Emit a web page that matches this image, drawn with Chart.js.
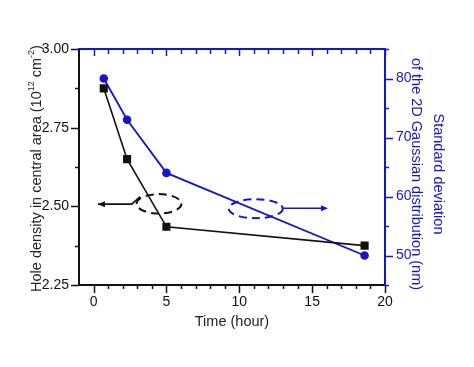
<!DOCTYPE html>
<html>
<head>
<meta charset="utf-8">
<script src="https://cdn.jsdelivr.net/npm/chart.js@4/dist/chart.umd.min.js"></script>
<style>
  html, body { margin: 0; padding: 0; background: #ffffff; }
  #wrap { width: 474px; height: 367px; }
</style>
</head>
<body>
<div id="wrap"><canvas id="c" width="474" height="367"></canvas></div>
<script>
// ---- data ----
const timeHours   = [0.7, 2.3, 5.0, 18.6];
const holeDensity = [2.875, 2.650, 2.435, 2.375];       // 10^12 cm^-2 (left axis)
const stdDeviation = [80.0, 73.0, 64.0, 50.0];          // nm (right axis)
const xTickValues = [0, 5, 10, 15, 20];
const leftTickValues = [2.25, 2.50, 2.75, 3.00];
const rightTickValues = [50, 60, 70, 80];

// ---- styles ----
const BLUE = '#1616c6';
const BLACK = '#111111';
const FONT = '"Liberation Sans", Arial, sans-serif';

// annotation marks (in data units)
const annotations = {
  blackEllipse: { cx: 4.49, cy: 2.508, rx: 1.54, ry: 0.0308 },
  blackArrow:   [[3.19, 2.531], [2.62, 2.507], [0.30, 2.507]],
  blueEllipse:  { cx: 11.13, cy: 57.93, rx: 1.85, ry: 1.61 },
  blueArrow:    [[13.0, 58.0], [16.09, 58.0]]
};

function drawArrowHead(ctx, x1, y1, x2, y2, color) {
  const ang = Math.atan2(y2 - y1, x2 - x1);
  const len = 7, half = 3;
  ctx.save();
  ctx.fillStyle = color;
  ctx.translate(x2, y2);
  ctx.rotate(ang);
  ctx.beginPath();
  ctx.moveTo(0, 0);
  ctx.lineTo(-len, -half);
  ctx.lineTo(-len, half);
  ctx.closePath();
  ctx.fill();
  ctx.restore();
}

const framePlugin = {
  id: 'frame',
  afterDatasetsDraw(chart) {
    const ctx = chart.ctx;
    const xs = chart.scales.x, yl = chart.scales.y, yr = chart.scales.y1;
    ctx.save();
    ctx.lineWidth = 2;
    ctx.setLineDash([8, 5]);
    // black ellipse
    let e = annotations.blackEllipse;
    let cx = xs.getPixelForValue(e.cx), cy = yl.getPixelForValue(e.cy);
    let rx = xs.getPixelForValue(e.cx + e.rx) - cx, ry = cy - yl.getPixelForValue(e.cy + e.ry);
    ctx.strokeStyle = BLACK;
    ctx.beginPath(); ctx.ellipse(cx, cy, rx, ry, 0, 0, Math.PI * 2); ctx.stroke();
    // blue ellipse
    e = annotations.blueEllipse;
    cx = xs.getPixelForValue(e.cx); cy = yr.getPixelForValue(e.cy);
    rx = xs.getPixelForValue(e.cx + e.rx) - cx; ry = cy - yr.getPixelForValue(e.cy + e.ry);
    ctx.strokeStyle = BLUE;
    ctx.beginPath(); ctx.ellipse(cx, cy, rx, ry, 0, 0, Math.PI * 2); ctx.stroke();
    ctx.setLineDash([]);
    // black arrow
    ctx.lineWidth = 1.6;
    ctx.strokeStyle = BLACK;
    const ba = annotations.blackArrow.map(p => [xs.getPixelForValue(p[0]), yl.getPixelForValue(p[1])]);
    ctx.beginPath();
    ba.forEach((p, i) => i ? ctx.lineTo(p[0], p[1]) : ctx.moveTo(p[0], p[1]));
    ctx.stroke();
    drawArrowHead(ctx, ba[ba.length - 2][0], ba[ba.length - 2][1], ba[ba.length - 1][0], ba[ba.length - 1][1], BLACK);
    // blue arrow
    ctx.strokeStyle = BLUE;
    const bb = annotations.blueArrow.map(p => [xs.getPixelForValue(p[0]), yr.getPixelForValue(p[1])]);
    ctx.beginPath();
    ctx.moveTo(bb[0][0], bb[0][1]); ctx.lineTo(bb[1][0] - 4, bb[1][1]);
    ctx.stroke();
    drawArrowHead(ctx, bb[0][0], bb[0][1], bb[1][0], bb[1][1], BLUE);
    ctx.restore();
  },
  afterDraw(chart) {
    const ctx = chart.ctx;
    const a = chart.chartArea;
    const xs = chart.scales.x, yl = chart.scales.y, yr = chart.scales.y1;
    ctx.save();
    ctx.lineCap = 'butt';
    // bottom axis ticks (black, outward)
    ctx.strokeStyle = BLACK; ctx.lineWidth = 1.5;
    for (let v = 0; v <= 20; v++) {
      const px = Math.round(xs.getPixelForValue(v)) + 0.5;
      const len = v % 5 === 0 ? 8 : 4;
      ctx.beginPath(); ctx.moveTo(px, a.bottom); ctx.lineTo(px, a.bottom + len); ctx.stroke();
    }
    // left axis ticks (black, outward)
    for (let v = 2.25; v <= 3.0001; v += 0.125) {
      const py = Math.round(yl.getPixelForValue(v)) + 0.5;
      const major = Math.abs((v / 0.25) - Math.round(v / 0.25)) < 1e-6;
      const len = major ? 8 : 4;
      ctx.beginPath(); ctx.moveTo(a.left, py); ctx.lineTo(a.left - len, py); ctx.stroke();
    }
    // top axis ticks (blue, inward)
    ctx.strokeStyle = BLUE;
    for (let v = 0; v <= 20; v++) {
      const px = Math.round(xs.getPixelForValue(v)) + 0.5;
      const len = v % 5 === 0 ? 7 : 5;
      ctx.beginPath(); ctx.moveTo(px, a.top); ctx.lineTo(px, a.top + len); ctx.stroke();
    }
    // right axis ticks (blue, outward)
    for (let v = 45; v <= 85; v += 5) {
      const py = Math.round(yr.getPixelForValue(v)) + 0.5;
      const len = v % 10 === 0 ? 8 : 4;
      ctx.beginPath(); ctx.moveTo(a.right, py); ctx.lineTo(a.right + len, py); ctx.stroke();
    }
    // frame
    ctx.lineWidth = 2;
    ctx.strokeStyle = BLACK;
    ctx.beginPath(); ctx.moveTo(a.left, a.top); ctx.lineTo(a.left, a.bottom + 1); ctx.stroke();
    ctx.beginPath(); ctx.moveTo(a.left - 1, a.bottom); ctx.lineTo(a.right, a.bottom); ctx.stroke();
    ctx.strokeStyle = BLUE;
    ctx.beginPath(); ctx.moveTo(a.left - 1, a.top); ctx.lineTo(a.right + 1, a.top); ctx.stroke();
    ctx.beginPath(); ctx.moveTo(a.right, a.top); ctx.lineTo(a.right, a.bottom + 1); ctx.stroke();

    // x title
    ctx.fillStyle = '#222222';
    ctx.font = '14.5px ' + FONT;
    ctx.textAlign = 'center';
    ctx.textBaseline = 'alphabetic';
    ctx.fillText('Time (hour)', 232, 326);

    // left title with superscripts (rotated, reading bottom to top)
    const parts = [
      { t: 'Hole density in central area (10', sup: false },
      { t: '12', sup: true },
      { t: ' cm', sup: false },
      { t: '-2', sup: true },
      { t: ')', sup: false }
    ];
    const mainF = '14.5px ' + FONT, supF = '9px ' + FONT;
    let total = 0;
    parts.forEach(p => { ctx.font = p.sup ? supF : mainF; p.w = ctx.measureText(p.t).width; total += p.w; });
    ctx.save();
    ctx.translate(41, 168.5);
    ctx.rotate(-Math.PI / 2);
    ctx.textAlign = 'left';
    let xx = -total / 2;
    parts.forEach(p => {
      ctx.font = p.sup ? supF : mainF;
      ctx.fillText(p.t, xx, p.sup ? -7 : 0);
      xx += p.w;
    });
    ctx.restore();

    // right title (rotated, reading top to bottom)
    ctx.save();
    ctx.fillStyle = BLUE;
    ctx.font = '14.5px ' + FONT;
    ctx.textAlign = 'center';
    ctx.translate(412, 174);
    ctx.rotate(Math.PI / 2);
    ctx.fillText('of the 2D Gaussian distribution (nm)', 0, 0);
    ctx.fillText('Standard deviation', 0, -22);
    ctx.restore();
    ctx.restore();
  }
};

const chart = new Chart(document.getElementById('c'), {
  type: 'line',
  data: {
    datasets: [
      {
        label: 'Hole density',
        data: timeHours.map((t, i) => ({ x: t, y: holeDensity[i] })),
        yAxisID: 'y',
        borderColor: BLACK,
        backgroundColor: BLACK,
        borderWidth: 1.6,
        pointStyle: 'rect',
        pointRadius: 4.6,
        pointHoverRadius: 4.6,
        tension: 0,
        clip: false
      },
      {
        label: 'Standard deviation',
        data: timeHours.map((t, i) => ({ x: t, y: stdDeviation[i] })),
        yAxisID: 'y1',
        borderColor: BLUE,
        backgroundColor: BLUE,
        borderWidth: 1.8,
        pointStyle: 'circle',
        pointRadius: 3.4,
        pointHoverRadius: 3.4,
        tension: 0,
        clip: false
      }
    ]
  },
  options: {
    responsive: false,
    devicePixelRatio: 1,
    animation: false,
    events: [],
    layout: { padding: { top: 49, left: 0, right: 0, bottom: 0 } },
    plugins: { legend: { display: false }, tooltip: { enabled: false }, title: { display: false } },
    scales: {
      x: {
        type: 'linear', min: -1, max: 20,
        border: { display: false },
        grid: { display: false, drawTicks: false },
        afterBuildTicks: s => { s.ticks = xTickValues.map(v => ({ value: v })); },
        afterFit: s => { s.height = 82; },
        ticks: { padding: 9, color: BLACK, font: { family: FONT, size: 14 }, maxRotation: 0, autoSkip: false,
                 callback: v => String(v) }
      },
      y: {
        type: 'linear', position: 'left', min: 2.25, max: 3.0,
        border: { display: false },
        grid: { display: false, drawTicks: false },
        afterBuildTicks: s => { s.ticks = leftTickValues.map(v => ({ value: v })); },
        afterFit: s => { s.width = 79; },
        ticks: { padding: 10, color: BLACK, font: { family: FONT, size: 14 }, autoSkip: false,
                 callback: v => Number(v).toFixed(2) }
      },
      y1: {
        type: 'linear', position: 'right', min: 45, max: 85,
        border: { display: false },
        grid: { display: false, drawTicks: false },
        afterBuildTicks: s => { s.ticks = rightTickValues.map(v => ({ value: v })); },
        afterFit: s => { s.width = 89; },
        ticks: { padding: 11, color: BLUE, font: { family: FONT, size: 14 }, autoSkip: false,
                 callback: v => String(v) }
      }
    }
  },
  plugins: [framePlugin]
});
</script>
</body>
</html>
